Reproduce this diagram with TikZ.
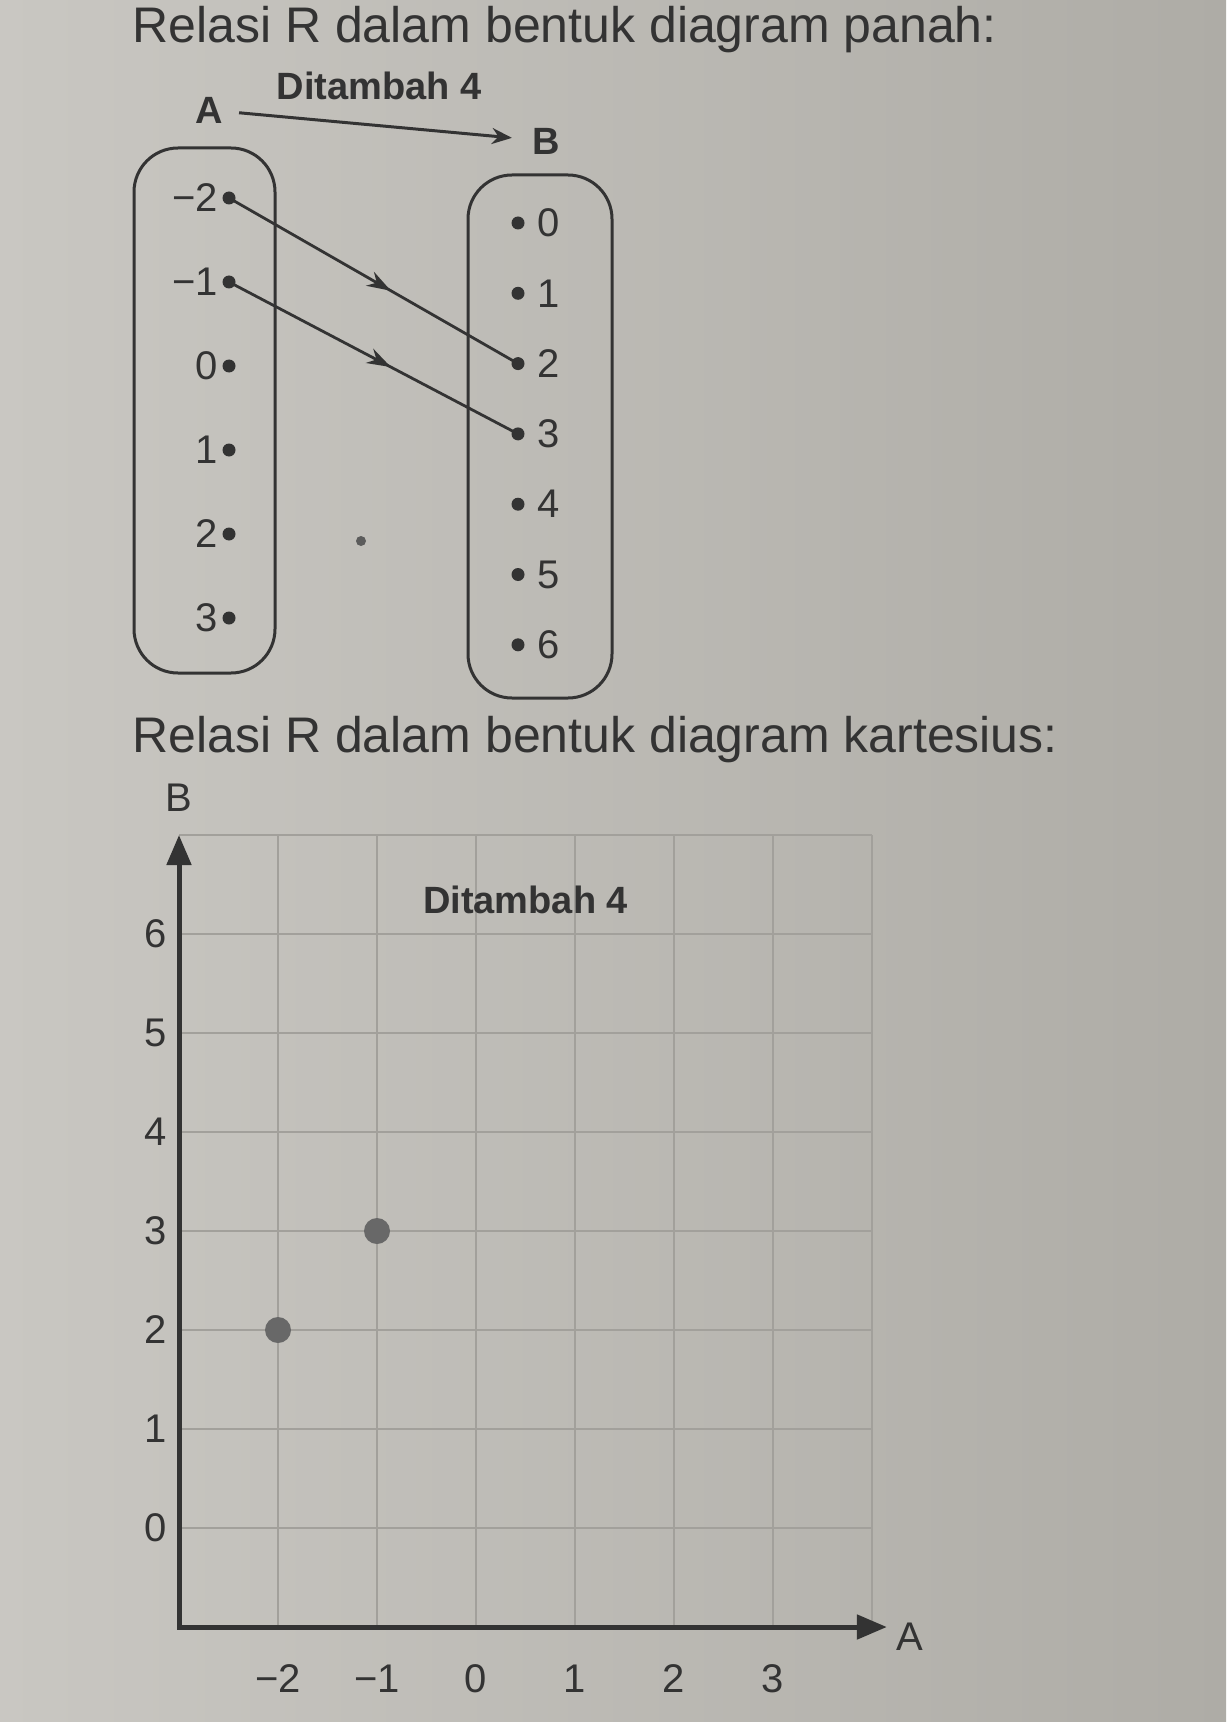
\documentclass[tikz,border=0pt]{standalone}
\usepackage{fontspec}
\setmainfont{Liberation Sans}
\usetikzlibrary{arrows.meta,decorations.markings}
\definecolor{ink}{HTML}{333333}
\definecolor{gridc}{HTML}{A2A09B}
\definecolor{ptc}{HTML}{686868}
\definecolor{bgL}{HTML}{C9C7C2}
\definecolor{bgR}{HTML}{AEACA6}
\tikzset{
  titletext/.style={font=\fontsize{25}{30}\selectfont, text=ink, anchor=west, inner sep=0pt},
  numtext/.style={font=\fontsize{20}{24}\selectfont, text=ink, inner sep=0pt},
  boldtext/.style={font=\bfseries\fontsize{19}{23}\selectfont, text=ink, inner sep=0pt},
  setbox/.style={draw=ink, line width=1.5pt, rounded corners=22pt, inner sep=0pt},
  elemdot/.style={circle, fill=ink, inner sep=0pt, minimum size=6.5pt},
  maparrow/.style={draw=ink, line width=1.4pt, postaction={decorate},
    decoration={markings, mark=at position 0.56 with {\arrow{Stealth[length=12pt,width=8pt]}}}},
  toparrow/.style={draw=ink, line width=1.5pt, -{Stealth[length=10pt,width=8pt]}},
  gridline/.style={draw=gridc, line width=0.7pt},
  axisline/.style={draw=ink, line width=2.5pt, {Triangle[length=15pt,width=12pt]}-{Triangle[length=15pt,width=12pt]}},
  ptdot/.style={circle, fill=ptc, inner sep=0pt, minimum size=13pt}
}
\begin{document}
\begin{tikzpicture}[x=0.5pt,y=-0.5pt]
\shade[left color=bgL, right color=bgR] (0,0) rectangle (1226,1722);
\useasboundingbox (0,0) rectangle (1226,1722);

% ---------- arrow diagram ----------
\node[titletext] (title1) at (132,30) {Relasi R dalam bentuk diagram panah:};
\node[boldtext] (lblA) at (209,110) {A};
\node[boldtext] (lblB) at (546,141) {B};
\node[boldtext] (rule1) at (379,86) {Ditambah 4};
\draw[toparrow, shorten <=8pt, shorten >=10pt] (lblA) -- (lblB);

\node[setbox, minimum width=70.5pt, minimum height=262.5pt] (setA) at (204.5,410.5) {};
\node[setbox, minimum width=72pt, minimum height=261.5pt] (setB) at (540,436.5) {};

\foreach \k/\t in {0/−2,1/−1,2/0,3/1,4/2,5/3}{
  \node[elemdot] (a\k) at (229,198+84*\k) {};
  \node[numtext, anchor=east] (la\k) at ([xshift=-2pt]a\k.west) {\t};
}
\foreach \k in {0,...,6}{
  \node[elemdot] (b\k) at (518,223+70.3*\k) {};
  \node[numtext, anchor=west] (lb\k) at ([xshift=6pt]b\k.east) {\k};
}
\draw[maparrow] (a0.center) -- (b2.center);
\draw[maparrow] (a1.center) -- (b3.center);
\node[circle, fill=ink!80, inner sep=0pt, minimum size=5pt] (stray) at (361,541) {};

% ---------- cartesian diagram ----------
\node[titletext] (title2) at (132,740) {Relasi R dalam bentuk diagram kartesius:};

\begin{scope}[shift={(476,1528)}, x=49.5pt, y=49.5pt]
  \foreach \i in {-2,...,4} \draw[gridline] (\i,-1) -- (\i,7);
  \foreach \j in {0,...,7} \draw[gridline] (-3,\j) -- (4,\j);
  \coordinate (org) at (-3,-1);
  \coordinate (ytip) at (-3,7);
  \coordinate (xtip) at (4.15,-1);
  \draw[axisline] (ytip) -- (org) -- (xtip);
  \node[numtext] (axB) at (-3,7.38) {B};
  \node[numtext, anchor=west] (axA) at (4.24,-1.1) {A};
  \node[boldtext] (rule2) at (0.5,6.34) {Ditambah 4};
  \foreach \j in {0,...,6} \node[numtext, anchor=east] (ty\j) at (-3.12,\j) {\j};
  \foreach \i/\t [count=\c] in {-2/−2,-1/−1,0/0,1/1,2/2,3/3}
    \node[numtext] (tx\c) at (\i,-1.52) {\t};
  \node[ptdot] (p1) at (-2,2) {};
  \node[ptdot] (p2) at (-1,3) {};
\end{scope}
\end{tikzpicture}
\end{document}
